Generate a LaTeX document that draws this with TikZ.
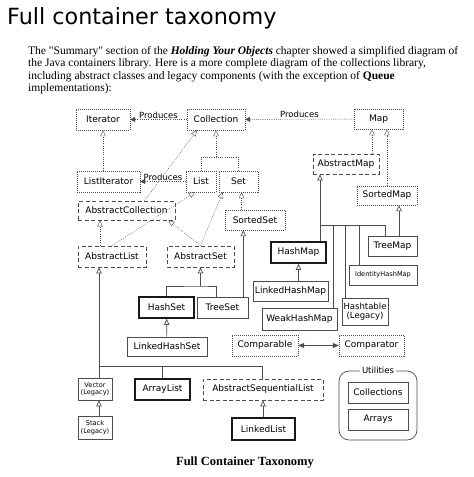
\documentclass[tikz,border=0pt]{standalone}
\usepackage{fontspec}
\setmainfont{Liberation Serif}[Ligatures=TeXOff]
\newfontfamily\diafont{DejaVu Sans}
\usetikzlibrary{positioning, arrows.meta}

\begin{document}
\begin{tikzpicture}[
    x=1pt, y=-1pt,
    box/.style={draw=black!70, font=\diafont\fontsize{9}{10}\selectfont,
        inner sep=1pt, minimum height=21},
    dotbox/.style={box, dash pattern=on 1pt off 1pt},
    dashbox/.style={box, dash pattern=on 4pt off 2.5pt, line width=0.7pt},
    plainbox/.style={box, line width=0.6pt},
    heavybox/.style={box, line width=1.7pt, draw=black!90},
    tiny/.style={font=\diafont\fontsize{6.6}{7.4}\selectfont, align=center},
    lbl/.style={font=\diafont\fontsize{8.5}{10}\selectfont, inner sep=1pt},
    link/.style={draw=black!70, line width=0.7pt},
    ext/.style={link, -{Triangle[open, length=6pt, width=5.5pt]}},
    impl/.style={draw=black!70, dash pattern=on 1pt off 1.2pt,
        -{Triangle[open, length=6pt, width=5.5pt]}},
    dotlink/.style={draw=black!70, dash pattern=on 1pt off 1.2pt},
    prod/.style={dotlink, -{Triangle[length=5pt, width=5pt]}},
    both/.style={link, {Triangle[length=6pt, width=5pt]}-{Triangle[length=6pt, width=5pt]}}
]
    \useasboundingbox (0,0) rectangle (474,477);

    \node[anchor=base west, inner sep=0, font=\diafont\fontsize{22.3}{26}\selectfont]
        (title) at (7,24) {Full container taxonomy};
    \node[anchor=base west, inner sep=0, align=left,
        font=\fontsize{11.5}{12.3}\selectfont] (intro) at (28,91.5)
        {The "Summary" section of the \textit{\textbf{Holding Your Objects}} chapter showed a simplified diagram of\\
         the Java containers library. Here is a more complete diagram of the collections library,\\
         including abstract classes and legacy components (with the exception of \textbf{Queue}\\
         implementations):};

    % interfaces
    \node[dotbox, minimum width=54] (iter) at (103,119.5) {Iterator};
    \node[dotbox, minimum width=58] (coll) at (216,119.5) {Collection};
    \node[dotbox, minimum width=49, minimum height=20] (map) at (378.5,119) {Map};
    \node[dotbox, minimum width=63] (litr) at (108.5,181.5) {ListIterator};
    \node[dotbox, minimum width=30] (list) at (201,181.5) {List};
    \node[dotbox, minimum width=39] (set) at (238.5,181.5) {Set};
    \node[dotbox, minimum width=60, minimum height=20] (sset) at (255,220) {SortedSet};
    \node[dotbox, minimum width=60, minimum height=19] (smap) at (387,195.5) {SortedMap};
    \node[dotbox, minimum width=66] (cable) at (265,345.5) {Comparable};
    \node[dotbox, minimum width=65] (ctor) at (371.5,345.5) {Comparator};

    % abstract classes
    \node[dashbox, minimum width=97, minimum height=19] (acoll) at (126.5,210.5) {AbstractCollection};
    \node[dashbox, minimum width=66, minimum height=20] (amap) at (346,164) {AbstractMap};
    \node[dashbox, minimum width=68] (alist) at (112,256.5) {AbstractList};
    \node[dashbox, minimum width=67] (aset) at (200.5,256.5) {AbstractSet};
    \node[dashbox, minimum width=120] (asl) at (263,389.5) {AbstractSequentialList};

    % classes
    \node[heavybox, minimum width=55] (hashmap) at (298.5,252.5) {HashMap};
    \node[plainbox, minimum width=49, minimum height=20] (treemap) at (392.5,246) {TreeMap};
    \node[plainbox, minimum width=68, minimum height=20, tiny] (idmap) at (383,275) {IdentityHashMap};
    \node[plainbox, minimum width=75, minimum height=20] (lhmap) at (290.5,291) {LinkedHashMap};
    \node[plainbox, minimum width=46, minimum height=27, align=center,
        font=\diafont\fontsize{8.5}{9.5}\selectfont] (htable) at (365,311.5) {Hashtable\\(Legacy)};
    \node[plainbox, minimum width=75, minimum height=22] (whmap) at (299.5,319) {WeakHashMap};
    \node[heavybox, minimum width=55] (hashset) at (166.5,307.5) {HashSet};
    \node[plainbox, minimum width=51] (treeset) at (222.5,307.5) {TreeSet};
    \node[plainbox, minimum width=80, minimum height=19] (lhset) at (167,346.5) {LinkedHashSet};
    \node[plainbox, minimum width=34, minimum height=22, tiny] (vector) at (95,389) {Vector\\(Legacy)};
    \node[heavybox, minimum width=55] (arrlist) at (162.5,389.5) {ArrayList};
    \node[plainbox, minimum width=34, minimum height=23, tiny] (stack) at (95,427.5) {Stack\\(Legacy)};
    \node[heavybox, minimum width=63, minimum height=22] (llist) at (263.5,429) {LinkedList};

    % utilities
    \node[draw=black!70, line width=0.7pt, rounded corners=10, minimum width=78,
        minimum height=69] (utils) at (378,405.5) {};
    \node[lbl, fill=white, inner xsep=2pt] (utitle) at (utils.north) {Utilities};
    \node[plainbox, minimum width=60] (colls) at (378,392.5) {Collections};
    \node[plainbox, minimum width=60] (arrays) at (378,419.5) {Arrays};

    % produces
    \draw[prod] (coll) -- (iter) node[lbl, midway, above] {Produces};
    \draw[prod] (map) -- (coll) node[lbl, midway, above] {Produces};
    \draw[prod] (list) -- (litr) node[lbl, midway, above] {Produces};

    % implements / extends interfaces
    \coordinate (jls) at (216,157);
    \draw[impl] (litr.north -| iter) -- (iter);
    \draw[dotlink] (list.north) |- (jls) -| (set.north);
    \draw[impl] (jls) -- (coll);
    \draw[impl] ([xshift=18]acoll.north) -- ([xshift=-19]coll.south);
    \draw[impl] (alist.north) -- ([xshift=-6]list.south);
    \draw[impl] ([xshift=-12]alist.north) -- ([xshift=-12]alist.north |- acoll.south);
    \draw[impl] (aset.north) -- ([xshift=-7]acoll.south east);
    \draw[impl] (aset.north) -- ([xshift=4]set.south west);
    \draw[impl] ([xshift=3]sset.north -| set.south) -- ([xshift=3]set.south);
    \draw[impl] ([xshift=-6.5]map.south |- amap.north) -- ([xshift=-6.5]map.south);
    \draw[impl] (smap.north) -- (smap.north |- map.south);

    % maps
    \coordinate (jamap) at (320,225);
    \draw[ext] (jamap) -- (jamap |- amap.south);
    \draw[link] (hashmap.north -| jamap) -- (jamap)
        -- ([xshift=-7.5]treemap.north |- jamap) -- ([xshift=-7.5]treemap.north);
    \draw[link] ([xshift=-4]whmap.north east) -- ([xshift=-4]whmap.north east |- jamap);
    \draw[link] ([xshift=4]htable.north west) -- ([xshift=4]htable.north west |- jamap);
    \draw[link] ([xshift=11]idmap.north west) -- ([xshift=11]idmap.north west |- jamap);
    \draw[ext] ([xshift=6.5]treemap.north) -- ([xshift=6.5]treemap.north |- smap.south);
    \draw[ext] (lhmap.north -| hashmap) -- (hashmap);

    % sets
    \coordinate (jaset) at (200.5,286);
    \draw[ext] (jaset) -- (aset);
    \draw[link] (hashset.north) |- (jaset) -| ([xshift=-6]treeset.north);
    \draw[ext] ([xshift=-5]treeset.north east) -- ([xshift=-5]treeset.north east |- sset.south);
    \draw[ext] (lhset) -- (hashset);

    % lists
    \coordinate (jalist) at (99,366);
    \draw[ext] (jalist) -- (jalist |- alist.south);
    \draw[link] (vector.north -| jalist) -- (jalist) -| ([xshift=-1]asl.north);
    \draw[link] (arrlist) -- (arrlist |- jalist);
    \draw[ext] (stack.north -| jalist) -- (vector.south -| jalist);
    \draw[ext] (llist.north -| asl) -- (asl);

    \draw[both] (cable) -- (ctor);

    \node[anchor=base, inner sep=0, font=\bfseries\fontsize{12.5}{14}\selectfont]
        (caption) at (245,465) {Full Container Taxonomy};
\end{tikzpicture}
\end{document}
